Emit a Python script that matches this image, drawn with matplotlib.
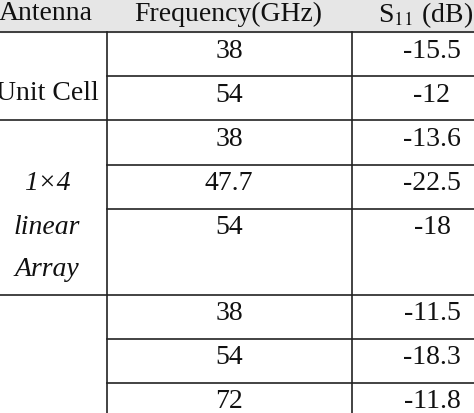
import matplotlib
matplotlib.use("Agg")
import matplotlib.pyplot as plt

plt.rcParams["mathtext.fontset"] = "stix"

headers = ["Antenna", "Frequency(GHz)", "S$_{11}$ (dB)"]
antennas = ["Unit Cell", "1×4\nlinear\nArray", ""]
frequencies = ["38", "54", "38", "47.7", "54", "38", "54", "72"]
s11_values = ["-15.5", "-12", "-13.6", "-22.5", "-18", "-11.5", "-18.3", "-11.8"]

W, H = 474, 413
fig = plt.figure(figsize=(W / 100, H / 100), dpi=100)
ax = fig.add_axes([0, 0, 1, 1])
ax.set_xlim(0, W); ax.set_ylim(H, 0); ax.axis("off")
font = dict(family="Liberation Serif", fontsize=20, color="#111111")

ax.add_patch(plt.Rectangle((0, 0), W, 32, color="#e6e6e6", zorder=0))
ax.text(46, 11, headers[0], ha="center", va="center_baseline", **font)
ax.text(228, 11, headers[1], ha="center", va="center_baseline", **font)
ax.text(473, 11, headers[2], ha="right", va="center_baseline", **font)

row_y = [48, 92, 136, 181, 225, 310, 355, 398]
for y, f, s in zip(row_y, frequencies, s11_values):
    ax.text(229, y, f, ha="center", va="center_baseline", **font)
    ax.text(432, y, s, ha="center", va="center_baseline", **font)

ax.text(47, 91, antennas[0], ha="center", va="center_baseline", **font)
for y, t in zip([181, 225, 267], antennas[1].split("\n")):
    ax.text(47, y, t, ha="center", va="center_baseline", style="italic", **font)

lc = "#222222"
for y in [32, 120, 295]:
    ax.plot([0, W], [y, y], color=lc, lw=1.2)
for y in [76, 165, 209, 339, 383]:
    ax.plot([107, W], [y, y], color=lc, lw=1.2)
for x in [107, 352]:
    ax.plot([x, x], [32, H], color=lc, lw=1.2)

fig.savefig("out.png", dpi=100)
